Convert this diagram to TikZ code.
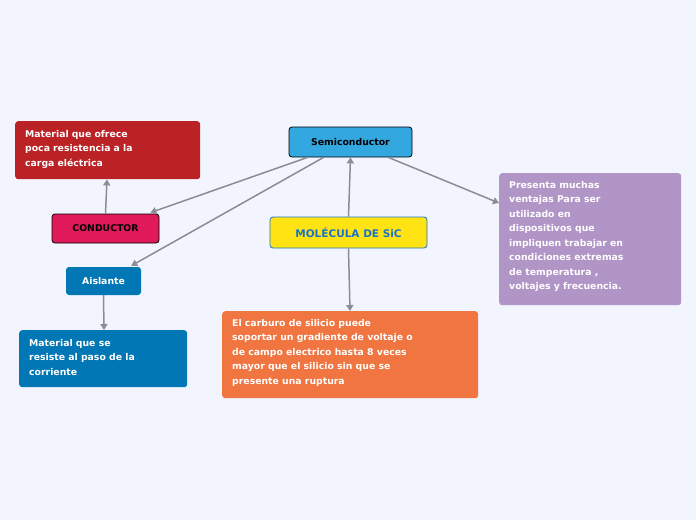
\documentclass[tikz,border=0pt]{standalone}
\usepackage{fontspec}
\setmainfont{DejaVu Sans}
\usetikzlibrary{calc,arrows.meta}
\definecolor{bg}{HTML}{F2F5FE}
\definecolor{semi}{HTML}{33A7E0}
\definecolor{red1}{HTML}{BB2226}
\definecolor{cond}{HTML}{E0195A}
\definecolor{ais}{HTML}{0277B5}
\definecolor{yel}{HTML}{FFE312}
\definecolor{molb}{HTML}{1A73C9}
\definecolor{ora}{HTML}{F07540}
\definecolor{pur}{HTML}{B195C7}
\definecolor{arr}{HTML}{8A8D94}
\tikzset{
 box/.style={rounded corners=3pt,font=\bfseries\fontsize{9.3}{14.5}\selectfont,inner sep=0pt,anchor=north west,align=left},
 txt/.style={box,text=white,inner xsep=10pt,inner ysep=6pt},
 lnk/.style={draw=arr,line width=1.5pt,-{Triangle[length=6pt,width=7pt]}}
}
\begin{document}
\begin{tikzpicture}[x=1pt,y=-1pt]
\fill[bg] (0,0) rectangle (696,520);
\node[box,draw=black,fill=semi,minimum width=123pt,minimum height=30pt,anchor=center,align=center,line width=0.8pt] (s) at (350.5,142) {Semiconductor};
\node[box,fill=red1,text=white,minimum width=185pt,minimum height=58pt,text width=165pt] (r) at (15,121) {};
\node[txt,anchor=north west,text width=165pt] at (15,124) {Material que ofrece\\poca resistencia a la\\carga eléctrica};
\node[box,draw=black,fill=cond,minimum width=107pt,minimum height=29pt,anchor=center,align=center,line width=0.8pt] (c) at (105.5,228.5) {CONDUCTOR};
\node[box,fill=ais,text=white,minimum width=75pt,minimum height=28pt,anchor=center,align=center] (a) at (103.5,281) {Aislante};
\node[box,fill=ais,minimum width=168pt,minimum height=57pt] (b) at (19,330) {};
\node[txt] at (19,333) {Material que se\\resiste al paso de la\\corriente};
\node[box,draw=molb,fill=yel,text=molb,minimum width=157pt,minimum height=31pt,anchor=center,align=center,line width=0.8pt,font=\bfseries\fontsize{10.5}{13}\selectfont] (m) at (348.5,232.5) {MOLÉCULA DE SiC};
\node[box,fill=ora,minimum width=256pt,minimum height=87pt] (o) at (222,311) {};
\node[txt] at (222,313) {El carburo de silicio puede\\soportar un gradiente de voltaje o\\de campo electrico hasta 8 veces\\mayor que el silicio sin que se\\presente una ruptura};
\node[box,fill=pur,minimum width=182pt,minimum height=132pt] (p) at (499,173) {};
\node[txt] at (499,175) {Presenta muchas\\ventajas Para ser\\utilizado en\\dispositivos que\\impliquen trabajar en\\condiciones extremas\\de temperatura ,\\voltajes y frecuencia.};
\draw[lnk] ($(s.south west)+(19,0)$) -- ($(c.north east)+(-9,-1)$);
\draw[lnk] ($(s.south west)+(35,0)$) -- ($(a.north east)+(-10,-1)$);
\draw[lnk] (m.north) -- ($(s.south)+(0,0)$);
\draw[lnk] (m.south) -- ($(o.north west)+(128,0)$);
\draw[lnk] ($(s.south east)+(-24,0)$) -- ($(p.north west)+(0,30)$);
\draw[lnk] (c.north) -- ($(r.south west)+(92,0)$);
\draw[lnk] (a.south) -- ($(b.north west)+(85,0)$);
\end{tikzpicture}
\end{document}
